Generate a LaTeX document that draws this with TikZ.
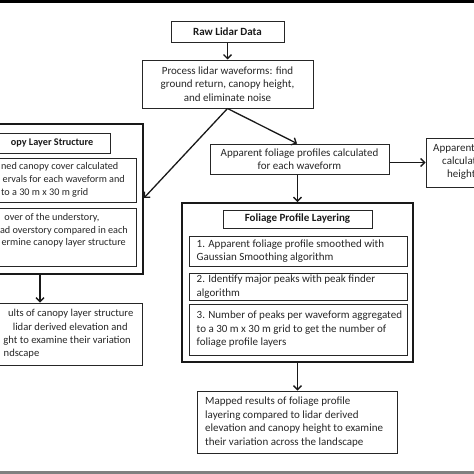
\documentclass[tikz,border=0pt]{standalone}
\usepackage{fontspec}
\setmainfont{Carlito}
\usetikzlibrary{arrows.meta}
\begin{document}
\begin{tikzpicture}[x=1pt,y=-1pt,
  box/.style={draw=black!85, line width=1pt, inner sep=0pt},
  bigbox/.style={draw=black!90, line width=1.9pt, inner sep=0pt},
  txt/.style={font=\fontsize{11}{13.4}\selectfont, text=black!85, inner sep=0pt},
  ltxt/.style={txt, anchor=east, text height=8pt, text depth=2.5pt},
  mtxt/.style={ltxt, font=\fontsize{10.6}{13.2}\selectfont},
  stxt/.style={ltxt, font=\fontsize{10.2}{12.6}\selectfont},
  btxt/.style={font=\fontsize{11}{13.4}\selectfont\bfseries, text=black!90, inner sep=0pt},
  arr/.style={-{Straight Barb[length=4pt,width=8pt]}, line width=1.3pt, draw=black!90}]
\useasboundingbox (0,0) rectangle (474,474);
% frame bars
\fill[black] (0,0) rectangle (474,3);
\fill[black!50] (0,471) rectangle (474,474);

% top
\node[box, minimum width=113pt, minimum height=21pt] (raw) at (227.5,31.5) {};
\node[btxt] (rawT) at (raw) {Raw Lidar Data};
\node[box, minimum width=171pt, minimum height=48pt] (proc) at (227.5,84) {};
\node[txt, align=center] (procT) at (proc) {Process lidar waveforms: find\\ground return, canopy height,\\and eliminate noise};

% canopy layer structure (left, cropped)
\node[bigbox, minimum width=153pt, minimum height=150pt] (canopy) at (66.5,199) {};
\node[box, minimum width=120pt, minimum height=20pt] (ctitle) at (50,143) {};
\node[btxt, anchor=east, text height=8pt, text depth=2.5pt, font=\fontsize{10.2}{12.6}\selectfont\bfseries] (ctitleT) at (93.5,143) {opy Layer Structure};
\node[box, minimum width=146pt, minimum height=44pt] (cb1) at (63,180) {};
\node[stxt] (cb1a) at (118.5,167.2) {ned canopy cover calculated};
\node[stxt] (cb1b) at (125,180) {ervals for each waveform and};
\node[stxt] (cb1c) at (88.5,192.8) {to a 30 m x 30 m grid};
\node[box, minimum width=146pt, minimum height=58pt] (cb2) at (63,237) {};
\node[stxt] (cb2a) at (99.5,218) {over of the understory,};
\node[stxt] (cb2b) at (128,230.6) {ad overstory compared in each};
\node[stxt] (cb2c) at (126,243.2) {ermine canopy layer structure};
\node[box, minimum width=152pt, minimum height=62pt] (results) at (66,334) {};
\node[mtxt] (resa) at (133.5,314) {ults of canopy layer structure};
\node[mtxt] (resb) at (127.8,327.3) {lidar derived elevation and};
\node[mtxt] (resc) at (131,340.6) {ght to examine their variation};
\node[mtxt] (resd) at (39.5,353.9) {ndscape};

% apparent foliage profiles
\node[box, minimum width=179pt, minimum height=30pt] (app) at (299.5,159) {};
\node[txt, align=center] (appT) at (app) {Apparent foliage profiles calculated\\for each waveform};
\node[box, minimum width=64pt, minimum height=49pt] (rbox) at (458,162.5) {};
\node[txt, align=left, anchor=west] (rboxT) at (433,162) {Apparent\\\hspace*{9pt}calculated\\\hspace*{14pt}height};

% foliage profile layering
\node[bigbox, minimum width=231pt, minimum height=159pt] (fol) at (297.5,282.5) {};
\node[box, minimum width=149pt, minimum height=18pt] (ftitle) at (297.5,219) {};
\node[btxt] (ftitleT) at (ftitle) {Foliage Profile Layering};
\node[box, minimum width=218pt, minimum height=30pt] (fb1) at (298,251) {};
\node[txt, align=left, anchor=west] (fb1T) at (196.5,251) {1. Apparent foliage profile smoothed with\\Gaussian Smoothing algorithm};
\node[box, minimum width=218pt, minimum height=27pt] (fb2) at (298,286.5) {};
\node[txt, align=left, anchor=west] (fb2T) at (196.5,286.5) {2. Identify major peaks with peak finder\\algorithm};
\node[box, minimum width=218pt, minimum height=51pt] (fb3) at (298,329.5) {};
\node[txt, align=left, anchor=west] (fb3T) at (196.5,329.5) {3. Number of peaks per waveform aggregated\\to a 30 m x 30 m grid to get the number of\\foliage profile layers};
\node[box, minimum width=200pt, minimum height=62pt] (final) at (297.3,422) {};
\node[txt, align=left, anchor=west] (finalT) at (205,422) {Mapped results of foliage profile\\layering compared to lidar derived\\elevation and canopy height to examine\\their variation across the landscape};

% connectors
\draw[arr] (raw.south) -- (proc.north);
\draw[arr] (proc.south) -- (canopy.east |- 0,198);
\draw[arr] (proc.south) -- (app.north -| 297,0);
\draw[arr] (app.east |- rbox.west) -- (rbox.west);
\draw[arr] (app.south -| fol.north) -- (fol.north);
\draw[arr] (fol.south) -- (final.north -| fol.south);
\draw[arr] (canopy.south -| 40,0) -- (results.north -| 40,0);
\end{tikzpicture}
\end{document}
